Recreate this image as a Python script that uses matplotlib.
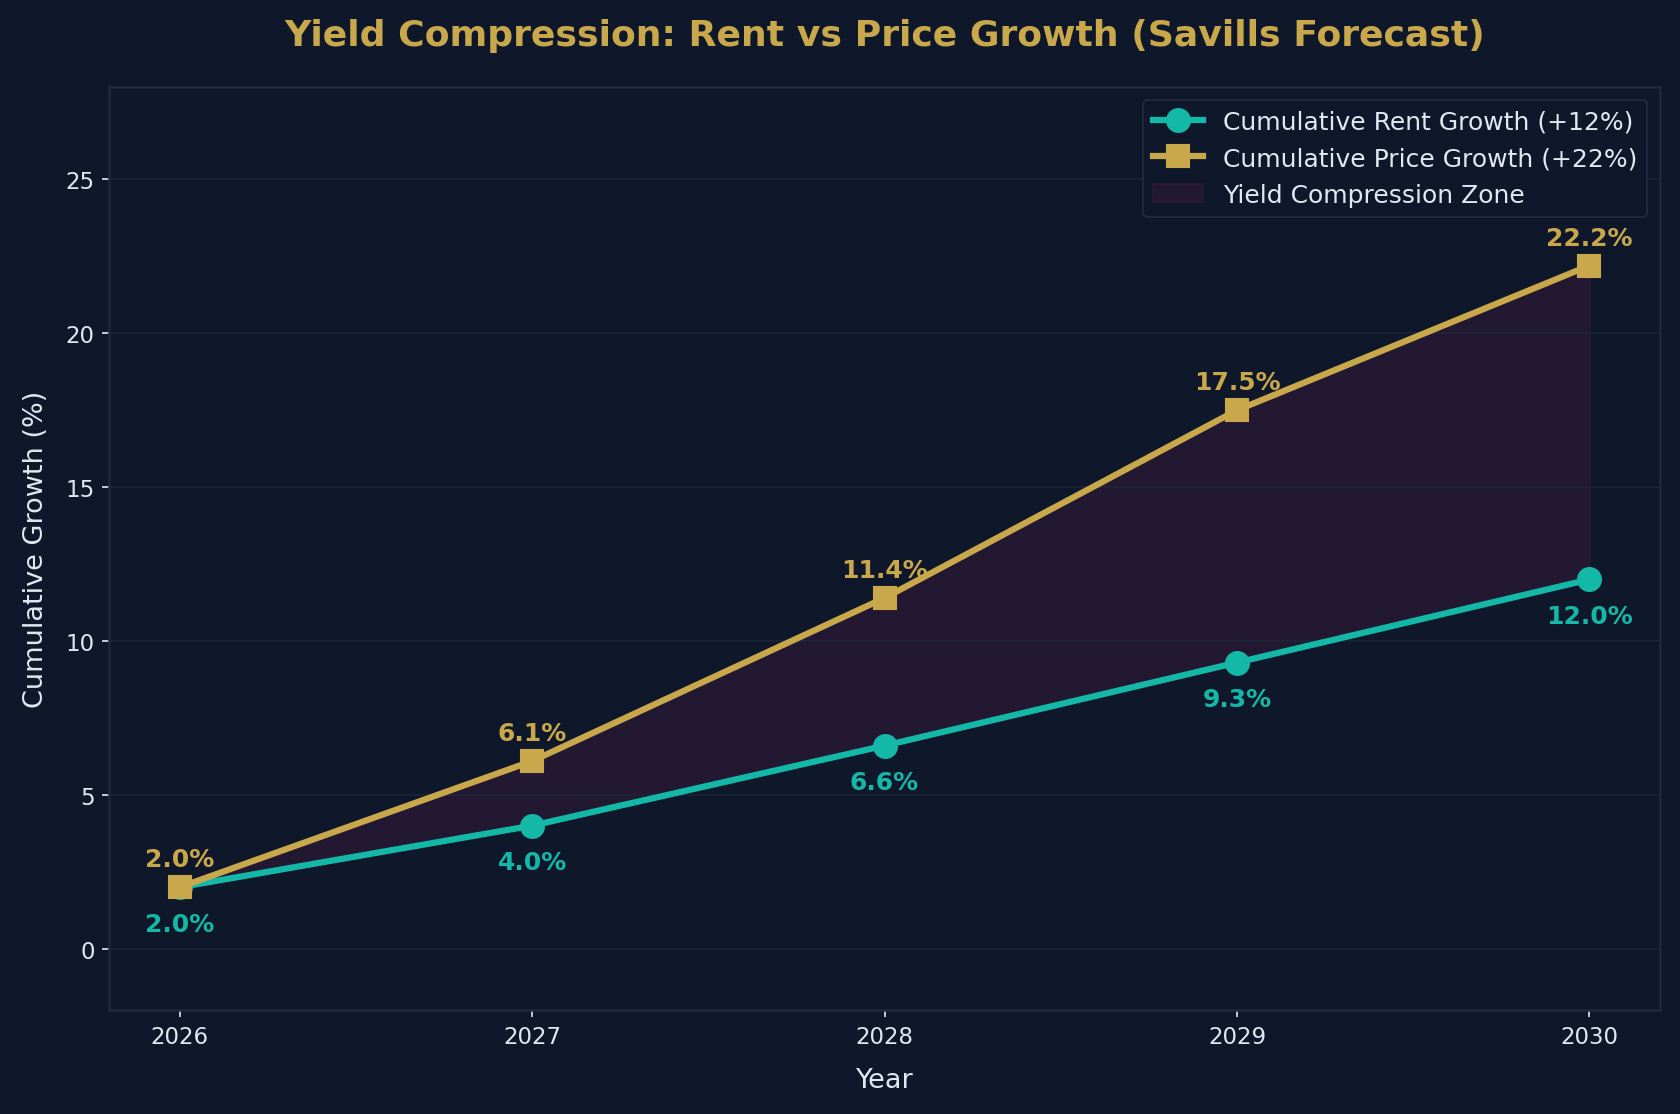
import matplotlib
matplotlib.use("Agg")
import matplotlib.pyplot as plt

years = [2026, 2027, 2028, 2029, 2030]
rent = [2.0, 4.0, 6.6, 9.3, 12.0]
price = [2.0, 6.1, 11.4, 17.5, 22.2]

BG = "#0f172a"
TEAL = "#14b8a6"
GOLD = "#c9a84c"
TXT = "#e2e8f0"
SPINE = "#1e293b"

fig, ax = plt.subplots(figsize=(11.2, 7.433), dpi=150)
fig.patch.set_facecolor(BG)
ax.set_facecolor(BG)

ax.fill_between(years, rent, price, color="#3b1a3a", alpha=0.45, label="Yield Compression Zone", zorder=1)
ax.plot(years, rent, color=TEAL, lw=3, marker="o", ms=11, label="Cumulative Rent Growth (+12%)", zorder=3)
ax.plot(years, price, color=GOLD, lw=3, marker="s", ms=11, label="Cumulative Price Growth (+22%)", zorder=4)

for x, r, p in zip(years, rent, price):
    ax.annotate(f"{p:.1f}%", (x, p), textcoords="offset points", xytext=(0, 10), ha="center",
                color=GOLD, fontsize=12, fontweight="bold")
    ax.annotate(f"{r:.1f}%", (x, r), textcoords="offset points", xytext=(0, -21), ha="center",
                color=TEAL, fontsize=12, fontweight="bold")

ax.set_xlim(2025.8, 2030.2)
ax.set_ylim(-2, 28)
ax.set_xticks(years)
ax.set_xticklabels([str(y) for y in years])
ax.tick_params(colors=TXT, labelsize=11)
ax.set_xlabel("Year", color=TXT, fontsize=13, labelpad=9)
ax.set_ylabel("Cumulative Growth (%)", color=TXT, fontsize=13, labelpad=8)
ax.set_title("Yield Compression: Rent vs Price Growth (Savills Forecast)", color=GOLD,
             fontsize=17.4, fontweight="bold", pad=20)
ax.grid(True, color="#1e293b", lw=0.8, alpha=0.8)
ax.xaxis.grid(False)
for s in ax.spines.values():
    s.set_color(SPINE)
    s.set_linewidth(1.2)

h, l = ax.get_legend_handles_labels()
order = [1, 2, 0]
leg = ax.legend([h[i] for i in order], [l[i] for i in order], loc="upper right", fontsize=12,
                facecolor=BG, edgecolor=SPINE, labelcolor=TXT, framealpha=1)

fig.subplots_adjust(left=0.065, right=0.988, top=0.921, bottom=0.093)
fig.savefig("out.png", dpi=150, facecolor=BG)
